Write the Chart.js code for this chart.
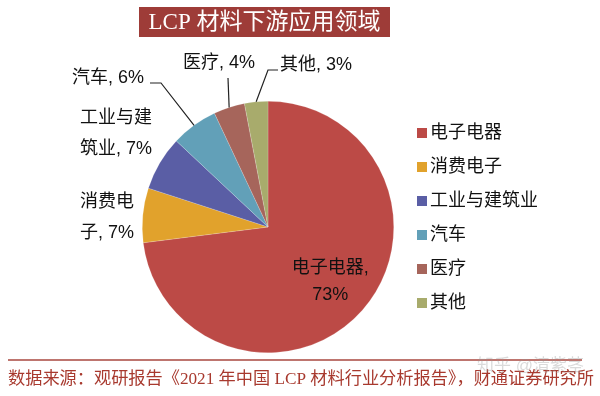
<!DOCTYPE html>
<html>
<head>
<meta charset="utf-8">
<script src="https://cdn.jsdelivr.net/npm/chart.js@4/dist/chart.umd.min.js"></script>
<style>
  html, body { margin: 0; padding: 0; background: #fff; }
  #wrap { width: 600px; height: 396px; position: relative; }
</style>
</head>
<body>
<div id="wrap"><canvas id="pie-chart" width="600" height="396"></canvas></div>
<script>
// 데이터
const categories = ['电子电器', '消费电子', '工业与建筑业', '汽车', '医疗', '其他'];
const shares = [73, 7, 7, 6, 4, 3];
const sliceColors = ['#BC4A46', '#E1A22C', '#5A5EA5', '#62A0B8', '#A6655B', '#A8AB6C'];

const titleText = 'LCP 材料下游应用领域';
const sourceText = '数据来源：观研报告《2021 年中国 LCP 材料行业分析报告》，财通证券研究所';

const FONT = '"Liberation Sans", "Noto Sans CJK SC", sans-serif';
const SERIF = '"Liberation Serif", "Noto Sans CJK SC", serif';

// 라벨 배치 (텍스트 위치만, 조각 좌표 아님)
const labelLayout = [
  { inside: true },
  { x: 80, y: 202, align: 'left', split: 3 },
  { x: 80, y: 118, align: 'left', split: 4 },
  { x: 72, y: 78, align: 'left', lineTo: [150, 83, 161, 83] },
  { x: 183, y: 63, align: 'left', lineTo: [228, 78] },
  { x: 280, y: 65, align: 'left', lineTo: [268, 70, 278, 70] }
];

const decoPlugin = {
  id: 'deco',
  beforeDraw(chart) {
    const ctx = chart.ctx;
    ctx.save();
    // 제목 박스
    ctx.fillStyle = '#9E3C38';
    ctx.fillRect(139, 7, 251, 30);
    ctx.fillStyle = '#fff';
    ctx.font = '23px ' + SERIF;
    ctx.textAlign = 'center';
    ctx.textBaseline = 'middle';
    ctx.fillText(titleText, 264.5, 23);
    ctx.restore();
  },
  afterDraw(chart) {
    const ctx = chart.ctx;
    const meta = chart.getDatasetMeta(0);
    ctx.save();
    ctx.font = '18px ' + FONT;
    ctx.fillStyle = '#111';
    ctx.textBaseline = 'middle';

    meta.data.forEach(function(arc, i) {
      const lay = labelLayout[i];
      const mid = (arc.startAngle + arc.endAngle) / 2;
      const txt = categories[i] + ', ' + shares[i] + '%';
      if (lay.inside) {
        const r = arc.outerRadius * 0.66;
        const cx = arc.x + Math.cos(mid) * r;
        const cy = arc.y + Math.sin(mid) * r;
        ctx.textAlign = 'center';
        ctx.fillText(categories[i] + ',', cx, cy - 14);
        ctx.fillText(shares[i] + '%', cx, cy + 13);
        return;
      }
      ctx.textAlign = lay.align;
      if (lay.split) {
        const l1 = categories[i].slice(0, lay.split);
        const l2 = categories[i].slice(lay.split) + ', ' + shares[i] + '%';
        ctx.fillText(l1, lay.x, lay.y);
        ctx.fillText(l2, lay.x, lay.y + 31);
      } else {
        ctx.fillText(txt, lay.x, lay.y);
      }
      if (lay.lineTo) {
        const ex = arc.x + Math.cos(mid) * arc.outerRadius;
        const ey = arc.y + Math.sin(mid) * arc.outerRadius;
        ctx.beginPath();
        ctx.strokeStyle = '#222';
        ctx.lineWidth = 1.2;
        ctx.moveTo(lay.lineTo[0], lay.lineTo[1]);
        for (let k = 2; k < lay.lineTo.length; k += 2) ctx.lineTo(lay.lineTo[k], lay.lineTo[k + 1]);
        if (lay.lineTo.length === 4 && lay.lineTo[0] > ex) {
          // 其他: 짧은 가로선 후 조각으로
          ctx.moveTo(lay.lineTo[2], lay.lineTo[3]);
          ctx.lineTo(lay.lineTo[0], lay.lineTo[1]);
        }
        ctx.lineTo(ex, ey);
        ctx.stroke();
      }
    });

    // 범례
    ctx.textAlign = 'left';
    categories.forEach(function(c, i) {
      const y = 133 + i * 34;
      ctx.fillStyle = sliceColors[i];
      ctx.fillRect(417, y - 5, 10, 10);
      ctx.fillStyle = '#111';
      ctx.fillText(c, 430, y);
    });

    // 출처
    ctx.strokeStyle = '#A9473F';
    ctx.lineWidth = 1.5;
    ctx.beginPath();
    ctx.moveTo(8, 360);
    ctx.lineTo(582, 360);
    ctx.stroke();

    ctx.fillStyle = '#A8392E';
    ctx.font = '17px ' + SERIF;
    const w = ctx.measureText(sourceText).width;
    ctx.save();
    ctx.translate(8, 380);
    ctx.scale(Math.min(1.15, 586 / w), 1);
    ctx.fillText(sourceText, 0, 0);
    ctx.restore();

    // 워터마크
    ctx.fillStyle = 'rgba(150,150,150,0.35)';
    ctx.font = '17px ' + FONT;
    ctx.fillText('知乎 @清紫茎', 477, 366);
    ctx.restore();
  }
};

const data = {
  labels: categories,
  datasets: [{
    data: shares,
    backgroundColor: sliceColors,
    borderColor: 'rgba(255,255,255,0.35)',
    borderWidth: 0.5
  }]
};

const config = {
  type: 'pie',
  data: data,
  options: {
    responsive: false,
    animation: false,
    layout: { padding: { left: 142, right: 206, top: 101, bottom: 43 } },
    plugins: {
      legend: { display: false },
      tooltip: { enabled: false }
    }
  },
  plugins: [decoPlugin]
};

const ctx = document.getElementById('pie-chart').getContext('2d');
new Chart(ctx, config);
</script>
</body>
</html>
